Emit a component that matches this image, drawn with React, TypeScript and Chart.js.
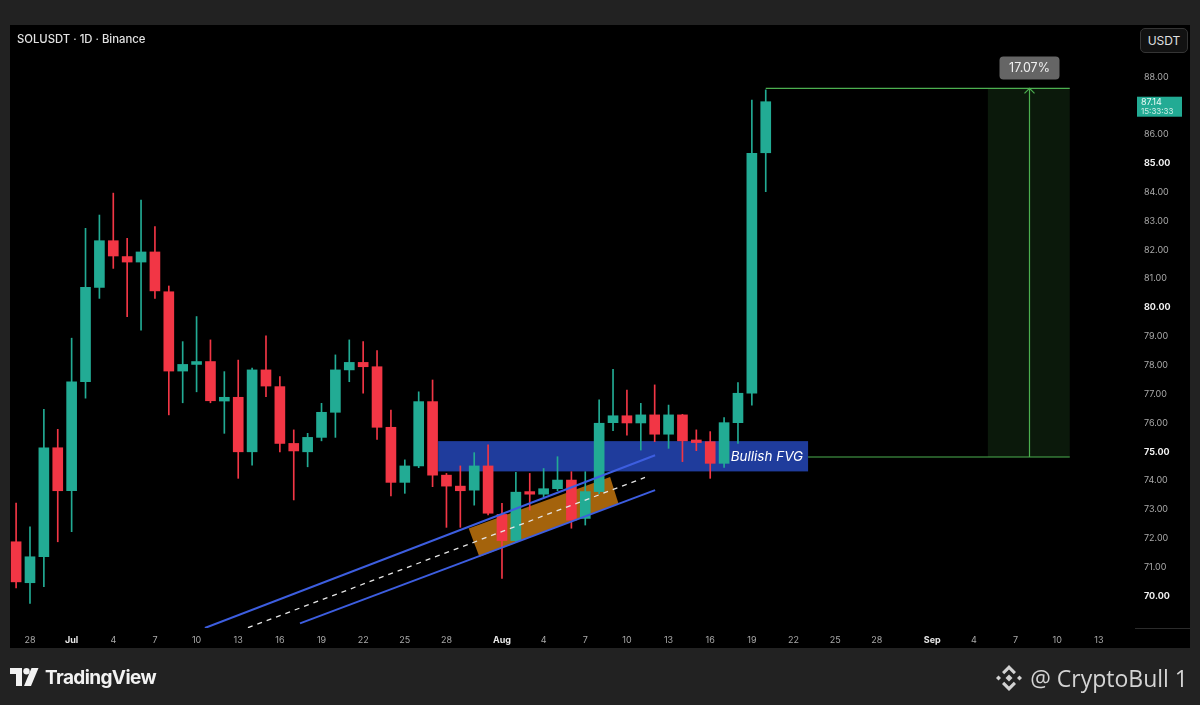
import React, { useEffect, useRef } from 'react';
import { Chart, registerables } from 'chart.js';

Chart.register(...registerables);

// ---------- DATA ----------
const dates = [
  '2024-06-27', '2024-06-28', '2024-06-29', '2024-06-30',
  '2024-07-01', '2024-07-02', '2024-07-03', '2024-07-04', '2024-07-05', '2024-07-06', '2024-07-07',
  '2024-07-08', '2024-07-09', '2024-07-10', '2024-07-11', '2024-07-12', '2024-07-13', '2024-07-14',
  '2024-07-15', '2024-07-16', '2024-07-17', '2024-07-18', '2024-07-19', '2024-07-20', '2024-07-21',
  '2024-07-22', '2024-07-23', '2024-07-24', '2024-07-25', '2024-07-26', '2024-07-27', '2024-07-28',
  '2024-07-29', '2024-07-30', '2024-07-31',
  '2024-08-01', '2024-08-02', '2024-08-03', '2024-08-04', '2024-08-05', '2024-08-06', '2024-08-07',
  '2024-08-08', '2024-08-09', '2024-08-10', '2024-08-11', '2024-08-12', '2024-08-13', '2024-08-14',
  '2024-08-15', '2024-08-16', '2024-08-17', '2024-08-18', '2024-08-19', '2024-08-20',
];

const opens = [
  71.88, 70.46, 71.36, 75.14,
  73.65, 77.43, 80.70, 82.32, 81.77, 81.58, 81.93,
  80.55, 77.80, 78.03, 78.13, 76.76, 76.89, 75.00,
  77.84, 77.26, 75.29, 75.00, 75.50, 76.37, 77.84,
  78.10, 77.95, 75.85, 73.94, 74.51, 76.74, 74.19,
  73.81, 73.67, 74.51,
  72.83, 71.92, 73.62, 73.53, 73.72, 74.02, 72.69,
  73.62, 76.01, 76.25, 76.00, 76.28, 75.61, 76.28,
  75.41, 75.35, 74.60, 76.01, 77.03, 85.37,
];

const highs = [
  73.22, 72.40, 76.47, 75.78,
  78.94, 82.75, 83.21, 83.97, 82.40, 83.73, 82.81,
  80.75, 78.82, 79.69, 78.88, 77.78, 78.18, 77.90,
  79.02, 77.61, 75.76, 75.64, 76.68, 78.36, 78.88,
  78.82, 78.51, 76.45, 74.72, 77.08, 77.49, 74.25,
  74.51, 74.97, 75.24,
  73.21, 74.29, 74.25, 74.42, 74.83, 74.31, 74.31,
  76.80, 77.86, 77.14, 76.68, 77.32, 76.62, 76.30,
  75.76, 75.70, 76.19, 77.40, 87.20, 87.55,
];

const lows = [
  70.28, 69.74, 70.32, 71.88,
  72.23, 76.86, 80.32, 81.36, 79.69, 79.22, 80.32,
  76.28, 76.70, 77.08, 76.70, 75.64, 74.08, 74.54,
  76.91, 75.00, 73.33, 74.48, 75.38, 75.50, 77.43,
  77.03, 75.43, 73.47, 73.56, 74.45, 73.79, 72.38,
  72.38, 73.15, 72.81,
  70.61, 71.85, 72.98, 73.44, 73.65, 72.35, 72.46,
  73.55, 75.73, 75.58, 75.06, 75.35, 75.12, 74.66,
  75.04, 74.08, 74.46, 75.29, 76.62, 84.02,
];

const closes = [
  70.49, 71.36, 75.14, 73.65,
  77.43, 80.70, 82.32, 81.79, 81.58, 81.93, 80.58,
  77.80, 78.03, 78.13, 76.77, 76.89, 75.00, 77.84,
  77.28, 75.29, 75.03, 75.50, 76.37, 77.84, 78.10,
  77.95, 75.85, 73.94, 74.51, 76.74, 74.19, 73.81,
  73.65, 74.51, 72.87,
  71.92, 73.60, 73.53, 73.72, 74.02, 72.63, 73.62,
  75.99, 76.25, 76.00, 76.28, 75.61, 76.28, 75.38,
  75.32, 74.60, 76.01, 77.03, 85.35, 87.14,
];

const tickDates = [
  '2024-06-28', '2024-07-01', '2024-07-04', '2024-07-07', '2024-07-10', '2024-07-13', '2024-07-16',
  '2024-07-19', '2024-07-22', '2024-07-25', '2024-07-28', '2024-08-01', '2024-08-04', '2024-08-07',
  '2024-08-10', '2024-08-13', '2024-08-16', '2024-08-19', '2024-08-22', '2024-08-25', '2024-08-28',
  '2024-09-01', '2024-09-04', '2024-09-07', '2024-09-10', '2024-09-13',
];
const tickLabels = [
  '28', 'Jul', '4', '7', '10', '13', '16', '19', '22', '25', '28', 'Aug', '4', '7',
  '10', '13', '16', '19', '22', '25', '28', 'Sep', '4', '7', '10', '13',
];
const monthLabels = ['Jul', 'Aug', 'Sep'];

const priceTicks = [70, 71, 72, 73, 74, 75, 76, 77, 78, 79, 80, 81, 82, 83, 84, 85, 86, 88];
const boldPriceTicks = [70, 75, 80, 85];

// annotation levels (prices)
const fvgTop = 75.37;
const fvgBottom = 74.32;
const targetHigh = 87.6;
const targetBase = 74.82;
const lastPrice = 87.14;
const lastPriceTime = '15:33:33';
const gainLabel = '17.07%';

// ---------- HELPERS ----------
const BASE = Date.UTC(2024, 5, 28);
const dayIndex = (s: string) => {
  const [y, m, d] = s.split('-').map(Number);
  return (Date.UTC(y, m - 1, d) - BASE) / 86400000;
};

const UP = '#22ab94';
const DOWN = '#f23645';

export default function App() {
  const ref = useRef<HTMLCanvasElement>(null);

  useEffect(() => {
    const canvas = ref.current!;
    const xs = dates.map(dayIndex);
    const colors = dates.map((_, i) => (closes[i] >= opens[i] ? UP : DOWN));
    const tickDays = tickDates.map(dayIndex);

    const dFvgStart = dayIndex('2024-07-27') + 0.4;
    const dFvgEnd = dayIndex('2024-08-23') + 0.05;
    const dLast = dayIndex('2024-08-20');
    const dBoxStart = dayIndex('2024-09-05');
    const dBoxEnd = dayIndex('2024-09-10') + 0.9;
    const dArrow = dayIndex('2024-09-08');

    const bgPlugin = {
      id: 'bg',
      beforeDraw(chart: any) {
        const c = chart.ctx;
        c.save();
        c.fillStyle = '#222222';
        c.fillRect(0, 0, 1200, 705);
        c.fillStyle = '#000000';
        c.fillRect(10, 25, 1180, 623);
        c.restore();
      },
    };

    const P = (chart: any, d: number, v: number) => [
      chart.scales.x.getPixelForValue(d),
      chart.scales.y.getPixelForValue(v),
    ];

    const behindPlugin = {
      id: 'behind',
      beforeDatasetsDraw(chart: any) {
        const c = chart.ctx;
        const a = chart.chartArea;
        c.save();
        c.beginPath();
        c.rect(a.left, a.top, a.right - a.left, a.bottom - a.top);
        c.clip();
        // FVG zone
        const [x1, y1] = P(chart, dFvgStart, fvgTop);
        const [x2, y2] = P(chart, dFvgEnd, fvgBottom);
        c.fillStyle = '#1f3c9c';
        c.fillRect(x1, y1, x2 - x1, y2 - y1);
        // orange channel segment
        const pts = [
          P(chart, 31.6, 72.34),
          P(chart, 41.79, 74.13),
          P(chart, 42.39, 73.21),
          P(chart, 32.37, 71.36),
        ];
        c.fillStyle = '#a4630c';
        c.beginPath();
        c.moveTo(pts[0][0], pts[0][1]);
        for (let i = 1; i < pts.length; i++) c.lineTo(pts[i][0], pts[i][1]);
        c.closePath();
        c.fill();
        c.restore();
      },
    };

    const overPlugin = {
      id: 'over',
      afterDatasetsDraw(chart: any) {
        const c = chart.ctx;
        const a = chart.chartArea;
        c.save();
        c.beginPath();
        c.rect(a.left, a.top, a.right - a.left, a.bottom - a.top);
        c.clip();
        // channel lines
        const line = (d1: number, v1: number, d2: number, v2: number) => {
          const [ax, ay] = P(chart, d1, v1);
          const [bx, by] = P(chart, d2, v2);
          c.beginPath();
          c.moveTo(ax, ay);
          c.lineTo(bx, by);
          c.stroke();
        };
        c.strokeStyle = '#3d5ee0';
        c.lineWidth = 2;
        line(12.6, 68.89, 45.03, 74.88);
        line(19.45, 69.05, 45.03, 73.67);
        c.strokeStyle = '#e6e6e6';
        c.lineWidth = 1.3;
        c.setLineDash([5, 5]);
        line(15.7, 68.9, 44.3, 74.11);
        c.setLineDash([]);

        // Bullish FVG label
        const [fx2] = P(chart, dFvgEnd, fvgTop);
        const [, fyMid] = P(chart, 0, (fvgTop + fvgBottom) / 2);
        c.fillStyle = '#ffffff';
        c.font = 'italic 13.5px Inter';
        c.textAlign = 'right';
        c.textBaseline = 'middle';
        c.fillText('Bullish FVG', fx2 - 5, fyMid + 1);

        // target box
        const [bx1, by1] = P(chart, dBoxStart, targetHigh);
        const [bx2, by2] = P(chart, dBoxEnd, targetBase);
        c.fillStyle = 'rgba(76,175,80,0.14)';
        c.fillRect(bx1, by1, bx2 - bx1, by2 - by1);
        c.strokeStyle = '#4caf50';
        c.lineWidth = 1.2;
        const [lx] = P(chart, dLast, targetHigh);
        c.beginPath();
        c.moveTo(lx, by1);
        c.lineTo(bx2, by1);
        c.stroke();
        const [fx] = P(chart, dFvgEnd, targetBase);
        c.beginPath();
        c.moveTo(fx, by2);
        c.lineTo(bx2, by2);
        c.stroke();
        const [ax] = P(chart, dArrow, targetHigh);
        c.beginPath();
        c.moveTo(ax, by2);
        c.lineTo(ax, by1);
        c.moveTo(ax - 5, by1 + 5);
        c.lineTo(ax, by1);
        c.lineTo(ax + 5, by1 + 5);
        c.stroke();
        c.restore();

        // gain label
        c.save();
        const w = 60, h = 23;
        const lx0 = ax - w / 2, ly0 = by1 - 32;
        c.fillStyle = 'rgba(112,112,112,0.9)';
        c.beginPath();
        (c as any).roundRect(lx0, ly0, w, h, 4);
        c.fill();
        c.fillStyle = '#f0f0f0';
        c.font = '12.5px Inter';
        c.textAlign = 'center';
        c.textBaseline = 'middle';
        c.fillText(gainLabel, ax, ly0 + h / 2 + 0.5);

        // last price label on axis
        const [, py] = P(chart, 0, lastPrice);
        c.fillStyle = UP;
        c.fillRect(1137, py - 5, 45, 20);
        c.fillStyle = '#eafaf6';
        c.font = '9px Inter';
        c.textAlign = 'left';
        c.textBaseline = 'middle';
        c.fillText(lastPrice.toFixed(2), 1141, py + 0.5);
        c.fillStyle = '#cdeee7';
        c.font = '8px Inter';
        c.fillText(lastPriceTime, 1141, py + 9.5);

        // corner separator
        c.strokeStyle = '#2b2b2b';
        c.lineWidth = 1;
        c.beginPath();
        c.moveTo(1135, a.bottom + 0.5);
        c.lineTo(1190, a.bottom + 0.5);
        c.stroke();
        c.restore();
      },
    };

    const chart = new Chart(canvas, {
      type: 'bar',
      data: {
        datasets: [
          {
            label: 'body',
            data: xs.map((x, i) => ({ x, y: [opens[i], closes[i]] })) as any,
            backgroundColor: colors,
            barThickness: 10,
            grouped: false,
            borderWidth: 0,
            borderSkipped: false,
          } as any,
          {
            label: 'wick',
            data: xs.map((x, i) => ({ x, y: [lows[i], highs[i]] })) as any,
            backgroundColor: colors,
            barThickness: 1,
            grouped: false,
            borderWidth: 0,
            borderSkipped: false,
          } as any,
        ],
      },
      options: {
        responsive: false,
        devicePixelRatio: 1,
        animation: false,
        events: [],
        layout: { padding: { left: 10, top: 25, right: 10, bottom: 57 } },
        plugins: { legend: { display: false }, tooltip: { enabled: false } },
        scales: {
          x: {
            type: 'linear',
            offset: false,
            min: -1.44,
            max: 79.6,
            grid: { display: false, drawTicks: false },
            border: { display: false },
            afterBuildTicks: (scale: any) => {
              scale.ticks = tickDays.map((v) => ({ value: v }));
            },
            afterFit: (scale: any) => {
              scale.height = 20;
            },
            ticks: {
              autoSkip: false,
              maxRotation: 0,
              padding: 7,
              callback: (_v: any, i: number) => tickLabels[i],
              color: (ctx: any) => (monthLabels.includes(tickLabels[ctx.index]) ? '#e8e8e8' : '#a9a9a9'),
              font: (ctx: any) => ({
                family: 'Inter',
                size: 9,
                weight: monthLabels.includes(tickLabels[ctx.index]) ? 'bold' : 'normal',
              }),
            },
          },
          y: {
            type: 'linear',
            position: 'right',
            min: 68.89,
            max: 89.8,
            grid: { display: false, drawTicks: false },
            border: { display: false },
            afterBuildTicks: (scale: any) => {
              scale.ticks = priceTicks.map((v) => ({ value: v }));
            },
            afterFit: (scale: any) => {
              scale.width = 55;
            },
            ticks: {
              padding: 9,
              callback: (v: any) => Number(v).toFixed(2),
              color: (ctx: any) => (boldPriceTicks.includes(ctx.tick?.value) ? '#f0f0f0' : '#a9a9a9'),
              font: (ctx: any) => ({
                family: 'Inter',
                size: 9,
                weight: boldPriceTicks.includes(ctx.tick?.value) ? 'bold' : 'normal',
              }),
            },
          },
        },
      },
      plugins: [bgPlugin, behindPlugin, overPlugin],
    } as any);

    return () => chart.destroy();
  }, []);

  return (
    <div
      style={{
        position: 'fixed',
        left: 0,
        top: 0,
        width: 1200,
        height: 705,
        background: '#222222',
        overflow: 'hidden',
        fontFamily: 'Inter, sans-serif',
      }}
    >
      <canvas
        ref={ref}
        width={1200}
        height={705}
        style={{ position: 'absolute', left: 0, top: 0, width: 1200, height: 705 }}
      />
      <div
        style={{
          position: 'absolute',
          left: 17,
          top: 32,
          fontSize: 11.3,
          lineHeight: '15px',
          color: '#e2e2e2',
          fontWeight: 500,
          whiteSpace: 'nowrap',
        }}
      >
        SOLUSDT · 1D · Binance
      </div>
      <div
        style={{
          position: 'absolute',
          left: 1140,
          top: 28,
          width: 46,
          height: 23,
          border: '1px solid #353535',
          borderRadius: 5,
          background: '#121212',
          color: '#e0e0e0',
          fontSize: 12,
          lineHeight: '23px',
          textAlign: 'center',
        }}
      >
        USDT
      </div>
      {/* TradingView logo */}
      <svg
        style={{ position: 'absolute', left: 10, top: 668 }}
        width={30}
        height={19}
        viewBox="0 0 30 19"
      >
        <path d="M0 0 H12 V18 H6 V6 H0 Z" fill="#f2f2f2" />
        <circle cx={16.5} cy={3.2} r={3.2} fill="#f2f2f2" />
        <path d="M21.5 0 H28.5 L21 18 H14 Z" fill="#f2f2f2" />
      </svg>
      <div
        style={{
          position: 'absolute',
          left: 45,
          top: 665,
          fontSize: 19,
          lineHeight: '25px',
          fontWeight: 700,
          color: '#f2f2f2',
          letterSpacing: -0.6,
          whiteSpace: 'nowrap',
        }}
      >
        TradingView
      </div>
      {/* Binance mark + handle */}
      <svg
        style={{ position: 'absolute', left: 995, top: 664 }}
        width={28}
        height={28}
        viewBox="0 0 28 28"
      >
        <g fill="#d2d2d2">
          <polygon points="14,10.5 17.5,14 14,17.5 10.5,14" />
          <polygon points="3.5,11.5 6,14 3.5,16.5 1,14" />
          <polygon points="24.5,11.5 27,14 24.5,16.5 22,14" />
          <polygon points="14,1 21,8 18.8,10.2 14,5.4 9.2,10.2 7,8" />
          <polygon points="14,27 21,20 18.8,17.8 14,22.6 9.2,17.8 7,20" />
        </g>
      </svg>
      <div
        style={{
          position: 'absolute',
          right: 12,
          top: 662,
          fontSize: 23,
          lineHeight: '32px',
          fontFamily: '"Open Sans", sans-serif',
          color: '#d4d4d4',
          whiteSpace: 'nowrap',
        }}
      >
        @ CryptoBull 1
      </div>
    </div>
  );
}
